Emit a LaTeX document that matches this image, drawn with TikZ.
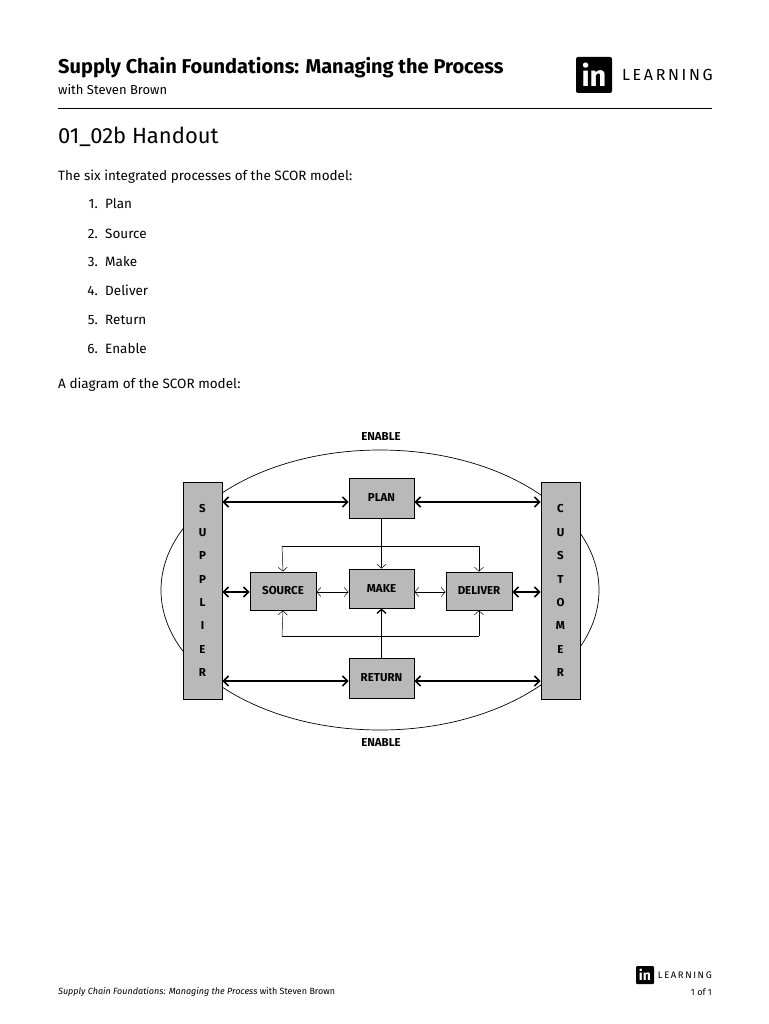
\documentclass[tikz,border=0pt]{standalone}
\usepackage{fontspec}
\setmainfont{Fira Sans}
\usetikzlibrary{arrows.meta}
\begin{document}
\begin{tikzpicture}[x=1pt,y=-1pt,
  box/.style={draw=black,fill=gray!55,line width=0.9pt,inner sep=0pt,font=\fontsize{11.5}{13}\selectfont\bfseries},
  thick2/.style={line width=1.6pt,{Straight Barb[length=5pt,width=10pt]}-{Straight Barb[length=5pt,width=10pt]}},
  thin2/.style={line width=0.5pt},
  tip/.style={-{Straight Barb[length=4pt,width=9pt]}},
  lbl/.style={font=\fontsize{11.5}{13}\selectfont\bfseries},
  txt/.style={anchor=base west,inner sep=0pt,font=\fontsize{13.5}{16}\selectfont}]
\useasboundingbox (0,0) rectangle (768,1024);
\fill[white] (0,0) rectangle (768,1024);
% header
\node[anchor=west,inner sep=0pt,font=\fontsize{20}{24}\selectfont\bfseries] (title) at (58,68) {Supply Chain Foundations: Managing the Process};
\node[anchor=west,inner sep=0pt,font=\fontsize{13}{15}\selectfont] (with) at (58,90) {with Steven Brown};
\draw[line width=0.6pt] (58,108) -- (712,108);
\node[fill=black,rounded corners=2pt,minimum width=36pt,minimum height=36pt,inner sep=0pt,text=white,font=\fontsize{29}{29}\selectfont\bfseries] (logo) at (594,75) {in};
\node[anchor=east,inner sep=0pt,font=\fontsize{16}{18}\selectfont] (learn) at (713,75) {L\,E\,A\,R\,N\,I\,N\,G};
\node[anchor=west,inner sep=0pt,font=\fontsize{22}{26}\selectfont] (h) at (58,137) {01\_02b Handout};
\node[txt] (intro) at (58,181) {The six integrated processes of the SCOR model:};
\foreach \n/\t/\y in {1/Plan/209,2/Source/238,3/Make/266,4/Deliver/295,5/Return/324,6/Enable/353}{
  \node[anchor=base east,inner sep=0pt,font=\fontsize{13.5}{16}\selectfont] (n\n) at (98,\y) {\n.};
  \node[txt] (i\n) at (105,\y) {\t};
}
\node[txt] (dia) at (58,388) {A diagram of the SCOR model:};
% diagram
\draw[line width=0.7pt] (380,590) ellipse [x radius=219,y radius=140];
\node[box,minimum width=39pt,minimum height=217pt] (sup) at (202.5,590.5) {};
\node[box,minimum width=39pt,minimum height=217pt] (cus) at (560.5,590.5) {};
\foreach \l [count=\i] in {S,U,P,P,L,I,E,R}
  \node[lbl] at (202.5,509+23.4*\i-23.4) {\l};
\foreach \l [count=\i] in {C,U,S,T,O,M,E,R}
  \node[lbl] at (560.5,509+23.4*\i-23.4) {\l};
\node[box,minimum width=65pt,minimum height=40pt] (plan) at (381.5,498) {PLAN};
\node[box,minimum width=65pt,minimum height=39pt] (make) at (381.5,588.5) {MAKE};
\node[box,minimum width=65pt,minimum height=40pt] (ret) at (381.5,678) {RETURN};
\node[box,minimum width=66pt,minimum height=38pt] (src) at (283,591) {SOURCE};
\node[box,minimum width=66pt,minimum height=38pt] (del) at (479,591) {DELIVER};
\node[lbl] (en1) at (381,437) {ENABLE};
\node[lbl] (en2) at (381,743) {ENABLE};
% thick arrows
\draw[thick2] (sup.east|-0,502) -- (plan.west|-0,502);
\draw[thick2] (plan.east|-0,502) -- (cus.west|-0,502);
\draw[thick2] (sup.east|-0,681) -- (ret.west|-0,681);
\draw[thick2] (ret.east|-0,681) -- (cus.west|-0,681);
\draw[thick2] (sup.east|-0,592) -- (src.west|-0,592);
\draw[thick2] (del.east|-0,592) -- (cus.west|-0,592);
% thin
\draw[thin2,{Straight Barb[length=4pt,width=9pt]}-{Straight Barb[length=4pt,width=9pt]}] (src.east|-0,592) -- (make.west|-0,592);
\draw[thin2,{Straight Barb[length=4pt,width=9pt]}-{Straight Barb[length=4pt,width=9pt]}] (make.east|-0,592) -- (del.west|-0,592);
\draw[thin2,tip] (plan.south) -- (make.north);
\coordinate (tl) at (282,546); \coordinate (tr) at (479,546);
\draw[thin2,tip] (tl) -- (src.north);
\draw[thin2] (tl) -- (tr);
\draw[thin2,tip] (tr) -- (del.north);
\coordinate (bl) at (282,636); \coordinate (br) at (479,636);
\draw[thin2,tip] (bl) -- (src.south);
\draw[thin2] (bl) -- (br);
\draw[thin2,tip] (br) -- (del.south);
\draw[line width=1.3pt,-{Straight Barb[length=4pt,width=9pt]}] (ret.north) -- (make.south);
% footer
\node[fill=black,rounded corners=1pt,minimum width=18pt,minimum height=18pt,inner sep=0pt,text=white,font=\fontsize{14}{14}\selectfont\bfseries] (flogo) at (645,975) {in};
\node[anchor=east,inner sep=0pt,font=\fontsize{9.5}{11}\selectfont] (flearn) at (712,975) {L\,E\,A\,R\,N\,I\,N\,G};
\node[anchor=east,inner sep=0pt,font=\fontsize{9}{11}\selectfont] (page) at (712,992) {1 of 1};
\node[anchor=west,inner sep=0pt,font=\fontsize{9}{11}\selectfont] (foot) at (58,992) {\textit{Supply Chain Foundations: Managing the Process} with Steven Brown};
\end{tikzpicture}
\end{document}
